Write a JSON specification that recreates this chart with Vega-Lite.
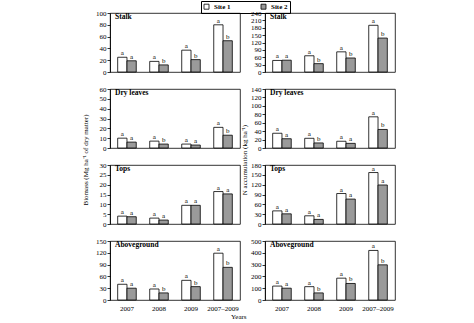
{
  "$schema": "https://vega.github.io/schema/vega-lite/v6.json",
  "padding": {"left": 82, "top": 0, "right": 5, "bottom": 0},
  "background": "white",
  "datasets": {
    "d": [
      {"var":"B","part":"Stalk","year":"2007","site":"Site 1","value":25,"letter":"a"},
      {"var":"B","part":"Stalk","year":"2007","site":"Site 2","value":19,"letter":"a"},
      {"var":"B","part":"Stalk","year":"2008","site":"Site 1","value":18,"letter":"a"},
      {"var":"B","part":"Stalk","year":"2008","site":"Site 2","value":12,"letter":"b"},
      {"var":"B","part":"Stalk","year":"2009","site":"Site 1","value":37,"letter":"a"},
      {"var":"B","part":"Stalk","year":"2009","site":"Site 2","value":21,"letter":"b"},
      {"var":"B","part":"Stalk","year":"2007–2009","site":"Site 1","value":80,"letter":"a"},
      {"var":"B","part":"Stalk","year":"2007–2009","site":"Site 2","value":53,"letter":"b"},
      {"var":"B","part":"Dry leaves","year":"2007","site":"Site 1","value":10,"letter":"a"},
      {"var":"B","part":"Dry leaves","year":"2007","site":"Site 2","value":6,"letter":"a"},
      {"var":"B","part":"Dry leaves","year":"2008","site":"Site 1","value":7,"letter":"a"},
      {"var":"B","part":"Dry leaves","year":"2008","site":"Site 2","value":4,"letter":"b"},
      {"var":"B","part":"Dry leaves","year":"2009","site":"Site 1","value":4,"letter":"a"},
      {"var":"B","part":"Dry leaves","year":"2009","site":"Site 2","value":3,"letter":"a"},
      {"var":"B","part":"Dry leaves","year":"2007–2009","site":"Site 1","value":21,"letter":"a"},
      {"var":"B","part":"Dry leaves","year":"2007–2009","site":"Site 2","value":13,"letter":"b"},
      {"var":"B","part":"Tops","year":"2007","site":"Site 1","value":4,"letter":"a"},
      {"var":"B","part":"Tops","year":"2007","site":"Site 2","value":3.7,"letter":"a"},
      {"var":"B","part":"Tops","year":"2008","site":"Site 1","value":3,"letter":"a"},
      {"var":"B","part":"Tops","year":"2008","site":"Site 2","value":2,"letter":"a"},
      {"var":"B","part":"Tops","year":"2009","site":"Site 1","value":9.5,"letter":"a"},
      {"var":"B","part":"Tops","year":"2009","site":"Site 2","value":9.5,"letter":"a"},
      {"var":"B","part":"Tops","year":"2007–2009","site":"Site 1","value":16.5,"letter":"a"},
      {"var":"B","part":"Tops","year":"2007–2009","site":"Site 2","value":15.3,"letter":"a"},
      {"var":"B","part":"Aboveground","year":"2007","site":"Site 1","value":40,"letter":"a"},
      {"var":"B","part":"Aboveground","year":"2007","site":"Site 2","value":30,"letter":"a"},
      {"var":"B","part":"Aboveground","year":"2008","site":"Site 1","value":28,"letter":"a"},
      {"var":"B","part":"Aboveground","year":"2008","site":"Site 2","value":18,"letter":"b"},
      {"var":"B","part":"Aboveground","year":"2009","site":"Site 1","value":50,"letter":"a"},
      {"var":"B","part":"Aboveground","year":"2009","site":"Site 2","value":34,"letter":"b"},
      {"var":"B","part":"Aboveground","year":"2007–2009","site":"Site 1","value":119,"letter":"a"},
      {"var":"B","part":"Aboveground","year":"2007–2009","site":"Site 2","value":83,"letter":"b"},
      {"var":"N","part":"Stalk","year":"2007","site":"Site 1","value":47,"letter":"a"},
      {"var":"N","part":"Stalk","year":"2007","site":"Site 2","value":48,"letter":"a"},
      {"var":"N","part":"Stalk","year":"2008","site":"Site 1","value":66,"letter":"a"},
      {"var":"N","part":"Stalk","year":"2008","site":"Site 2","value":34,"letter":"b"},
      {"var":"N","part":"Stalk","year":"2009","site":"Site 1","value":82,"letter":"a"},
      {"var":"N","part":"Stalk","year":"2009","site":"Site 2","value":57,"letter":"b"},
      {"var":"N","part":"Stalk","year":"2007–2009","site":"Site 1","value":190,"letter":"a"},
      {"var":"N","part":"Stalk","year":"2007–2009","site":"Site 2","value":138,"letter":"b"},
      {"var":"N","part":"Dry leaves","year":"2007","site":"Site 1","value":35,"letter":"a"},
      {"var":"N","part":"Dry leaves","year":"2007","site":"Site 2","value":22,"letter":"a"},
      {"var":"N","part":"Dry leaves","year":"2008","site":"Site 1","value":23,"letter":"a"},
      {"var":"N","part":"Dry leaves","year":"2008","site":"Site 2","value":12,"letter":"b"},
      {"var":"N","part":"Dry leaves","year":"2009","site":"Site 1","value":16,"letter":"a"},
      {"var":"N","part":"Dry leaves","year":"2009","site":"Site 2","value":11,"letter":"a"},
      {"var":"N","part":"Dry leaves","year":"2007–2009","site":"Site 1","value":74,"letter":"a"},
      {"var":"N","part":"Dry leaves","year":"2007–2009","site":"Site 2","value":44,"letter":"b"},
      {"var":"N","part":"Tops","year":"2007","site":"Site 1","value":40,"letter":"a"},
      {"var":"N","part":"Tops","year":"2007","site":"Site 2","value":31,"letter":"a"},
      {"var":"N","part":"Tops","year":"2008","site":"Site 1","value":25,"letter":"a"},
      {"var":"N","part":"Tops","year":"2008","site":"Site 2","value":14,"letter":"a"},
      {"var":"N","part":"Tops","year":"2009","site":"Site 1","value":93,"letter":"a"},
      {"var":"N","part":"Tops","year":"2009","site":"Site 2","value":76,"letter":"a"},
      {"var":"N","part":"Tops","year":"2007–2009","site":"Site 1","value":157,"letter":"a"},
      {"var":"N","part":"Tops","year":"2007–2009","site":"Site 2","value":119,"letter":"a"},
      {"var":"N","part":"Aboveground","year":"2007","site":"Site 1","value":118,"letter":"a"},
      {"var":"N","part":"Aboveground","year":"2007","site":"Site 2","value":100,"letter":"a"},
      {"var":"N","part":"Aboveground","year":"2008","site":"Site 1","value":113,"letter":"a"},
      {"var":"N","part":"Aboveground","year":"2008","site":"Site 2","value":60,"letter":"b"},
      {"var":"N","part":"Aboveground","year":"2009","site":"Site 1","value":185,"letter":"a"},
      {"var":"N","part":"Aboveground","year":"2009","site":"Site 2","value":140,"letter":"b"},
      {"var":"N","part":"Aboveground","year":"2007–2009","site":"Site 1","value":420,"letter":"a"},
      {"var":"N","part":"Aboveground","year":"2007–2009","site":"Site 2","value":298,"letter":"b"}
    ]
  },
  "data": {"name": "d"},
  "title": {"text": "Years", "orient": "bottom", "anchor": "middle", "fontSize": 7, "fontWeight": "normal", "font": "Liberation Serif", "offset": 2},
  "spacing": 0,
  "hconcat": [
    {
      "title": {"text": "Biomass (Mg ha⁻¹ of dry matter)", "orient": "left", "anchor": "middle", "fontSize": 7, "fontWeight": "normal", "font": "Liberation Serif", "offset": 6},
      "spacing": 8,
      "vconcat": [
        {
          "width": 130, "height": 59,
          "title": {"text": "Stalk", "anchor": "start", "frame": "group", "offset": -11, "dx": 5, "fontSize": 7.5, "fontWeight": "bold", "font": "Liberation Serif"},
          "transform": [{"filter": "datum.var == 'B' && datum.part == 'Stalk'"}],
          "encoding": {
            "x": {"field": "year", "type": "nominal", "sort": ["2007","2008","2009","2007–2009"], "scale": {"paddingInner": 0.42, "paddingOuter": 0.24}, "axis": null},
            "xOffset": {"field": "site", "type": "nominal", "sort": ["Site 1","Site 2"]},
            "y": {"field": "value", "type": "quantitative", "scale": {"domain": [0, 100]}, "axis": {"values": [0,20,40,60,80,100], "title": null}}
          },
          "layer": [
            {"mark": {"type": "bar", "stroke": "black", "strokeWidth": 0.8}, "encoding": {"color": {"field": "site", "type": "nominal", "scale": {"domain": ["Site 1","Site 2"], "range": ["white","#9a9a9a"]}, "legend": {"orient": "none", "legendX": 91, "legendY": -12, "direction": "horizontal", "title": null, "strokeColor": "black", "padding": 2, "symbolType": "square", "symbolSize": 25, "symbolStrokeColor": "black", "symbolStrokeWidth": 0.8, "labelFontSize": 7, "labelFontWeight": "bold", "labelFont": "Liberation Serif", "columnPadding": 28}}}},
            {"mark": {"type": "text", "baseline": "bottom", "dy": -1, "fontSize": 7, "fill": "black"}, "encoding": {"text": {"field": "letter"}}}
          ]
        },
        {
          "width": 130, "height": 59,
          "title": {"text": "Dry leaves", "anchor": "start", "frame": "group", "offset": -11, "dx": 5, "fontSize": 7.5, "fontWeight": "bold", "font": "Liberation Serif"},
          "transform": [{"filter": "datum.var == 'B' && datum.part == 'Dry leaves'"}],
          "encoding": {
            "x": {"field": "year", "type": "nominal", "sort": ["2007","2008","2009","2007–2009"], "scale": {"paddingInner": 0.42, "paddingOuter": 0.24}, "axis": null},
            "xOffset": {"field": "site", "type": "nominal", "sort": ["Site 1","Site 2"]},
            "y": {"field": "value", "type": "quantitative", "scale": {"domain": [0, 60]}, "axis": {"values": [0,10,20,30,40,50,60], "title": null}}
          },
          "layer": [
            {"mark": {"type": "bar", "stroke": "black", "strokeWidth": 0.8}, "encoding": {"color": {"field": "site", "type": "nominal"}}},
            {"mark": {"type": "text", "baseline": "bottom", "dy": -1, "fontSize": 7, "fill": "black"}, "encoding": {"text": {"field": "letter"}}}
          ]
        },
        {
          "width": 130, "height": 59,
          "title": {"text": "Tops", "anchor": "start", "frame": "group", "offset": -11, "dx": 5, "fontSize": 7.5, "fontWeight": "bold", "font": "Liberation Serif"},
          "transform": [{"filter": "datum.var == 'B' && datum.part == 'Tops'"}],
          "encoding": {
            "x": {"field": "year", "type": "nominal", "sort": ["2007","2008","2009","2007–2009"], "scale": {"paddingInner": 0.42, "paddingOuter": 0.24}, "axis": null},
            "xOffset": {"field": "site", "type": "nominal", "sort": ["Site 1","Site 2"]},
            "y": {"field": "value", "type": "quantitative", "scale": {"domain": [0, 30]}, "axis": {"values": [0,5,10,15,20,25,30], "title": null}}
          },
          "layer": [
            {"mark": {"type": "bar", "stroke": "black", "strokeWidth": 0.8}, "encoding": {"color": {"field": "site", "type": "nominal"}}},
            {"mark": {"type": "text", "baseline": "bottom", "dy": -1, "fontSize": 7, "fill": "black"}, "encoding": {"text": {"field": "letter"}}}
          ]
        },
        {
          "width": 130, "height": 59,
          "title": {"text": "Aboveground", "anchor": "start", "frame": "group", "offset": -11, "dx": 5, "fontSize": 7.5, "fontWeight": "bold", "font": "Liberation Serif"},
          "transform": [{"filter": "datum.var == 'B' && datum.part == 'Aboveground'"}],
          "encoding": {
            "x": {"field": "year", "type": "nominal", "sort": ["2007","2008","2009","2007–2009"], "scale": {"paddingInner": 0.42, "paddingOuter": 0.24}, "axis": {"labelAngle": 0, "ticks": false, "domain": false, "title": null, "labelPadding": 4}},
            "xOffset": {"field": "site", "type": "nominal", "sort": ["Site 1","Site 2"]},
            "y": {"field": "value", "type": "quantitative", "scale": {"domain": [0, 150]}, "axis": {"values": [0,30,60,90,120,150], "title": null}}
          },
          "layer": [
            {"mark": {"type": "bar", "stroke": "black", "strokeWidth": 0.8}, "encoding": {"color": {"field": "site", "type": "nominal"}}},
            {"mark": {"type": "text", "baseline": "bottom", "dy": -1, "fontSize": 7, "fill": "black"}, "encoding": {"text": {"field": "letter"}}}
          ]
        }
      ]
    },
    {
      "title": {"text": "N accumulation (kg ha⁻¹)", "orient": "left", "anchor": "middle", "fontSize": 7, "fontWeight": "normal", "font": "Liberation Serif", "offset": 2},
      "spacing": 8,
      "vconcat": [
        {
          "width": 130, "height": 59,
          "title": {"text": "Stalk", "anchor": "start", "frame": "group", "offset": -11, "dx": 5, "fontSize": 7.5, "fontWeight": "bold", "font": "Liberation Serif"},
          "transform": [{"filter": "datum.var == 'N' && datum.part == 'Stalk'"}],
          "encoding": {
            "x": {"field": "year", "type": "nominal", "sort": ["2007","2008","2009","2007–2009"], "scale": {"paddingInner": 0.42, "paddingOuter": 0.24}, "axis": null},
            "xOffset": {"field": "site", "type": "nominal", "sort": ["Site 1","Site 2"]},
            "y": {"field": "value", "type": "quantitative", "scale": {"domain": [0, 240]}, "axis": {"values": [0,30,60,90,120,150,180,210,240], "title": null}}
          },
          "layer": [
            {"mark": {"type": "bar", "stroke": "black", "strokeWidth": 0.8}, "encoding": {"color": {"field": "site", "type": "nominal"}}},
            {"mark": {"type": "text", "baseline": "bottom", "dy": -1, "fontSize": 7, "fill": "black"}, "encoding": {"text": {"field": "letter"}}}
          ]
        },
        {
          "width": 130, "height": 59,
          "title": {"text": "Dry leaves", "anchor": "start", "frame": "group", "offset": -11, "dx": 5, "fontSize": 7.5, "fontWeight": "bold", "font": "Liberation Serif"},
          "transform": [{"filter": "datum.var == 'N' && datum.part == 'Dry leaves'"}],
          "encoding": {
            "x": {"field": "year", "type": "nominal", "sort": ["2007","2008","2009","2007–2009"], "scale": {"paddingInner": 0.42, "paddingOuter": 0.24}, "axis": null},
            "xOffset": {"field": "site", "type": "nominal", "sort": ["Site 1","Site 2"]},
            "y": {"field": "value", "type": "quantitative", "scale": {"domain": [0, 140]}, "axis": {"values": [0,20,40,60,80,100,120,140], "title": null}}
          },
          "layer": [
            {"mark": {"type": "bar", "stroke": "black", "strokeWidth": 0.8}, "encoding": {"color": {"field": "site", "type": "nominal"}}},
            {"mark": {"type": "text", "baseline": "bottom", "dy": -1, "fontSize": 7, "fill": "black"}, "encoding": {"text": {"field": "letter"}}}
          ]
        },
        {
          "width": 130, "height": 59,
          "title": {"text": "Tops", "anchor": "start", "frame": "group", "offset": -11, "dx": 5, "fontSize": 7.5, "fontWeight": "bold", "font": "Liberation Serif"},
          "transform": [{"filter": "datum.var == 'N' && datum.part == 'Tops'"}],
          "encoding": {
            "x": {"field": "year", "type": "nominal", "sort": ["2007","2008","2009","2007–2009"], "scale": {"paddingInner": 0.42, "paddingOuter": 0.24}, "axis": null},
            "xOffset": {"field": "site", "type": "nominal", "sort": ["Site 1","Site 2"]},
            "y": {"field": "value", "type": "quantitative", "scale": {"domain": [0, 180]}, "axis": {"values": [0,30,60,90,120,150,180], "title": null}}
          },
          "layer": [
            {"mark": {"type": "bar", "stroke": "black", "strokeWidth": 0.8}, "encoding": {"color": {"field": "site", "type": "nominal"}}},
            {"mark": {"type": "text", "baseline": "bottom", "dy": -1, "fontSize": 7, "fill": "black"}, "encoding": {"text": {"field": "letter"}}}
          ]
        },
        {
          "width": 130, "height": 59,
          "title": {"text": "Aboveground", "anchor": "start", "frame": "group", "offset": -11, "dx": 5, "fontSize": 7.5, "fontWeight": "bold", "font": "Liberation Serif"},
          "transform": [{"filter": "datum.var == 'N' && datum.part == 'Aboveground'"}],
          "encoding": {
            "x": {"field": "year", "type": "nominal", "sort": ["2007","2008","2009","2007–2009"], "scale": {"paddingInner": 0.42, "paddingOuter": 0.24}, "axis": {"labelAngle": 0, "ticks": false, "domain": false, "title": null, "labelPadding": 4}},
            "xOffset": {"field": "site", "type": "nominal", "sort": ["Site 1","Site 2"]},
            "y": {"field": "value", "type": "quantitative", "scale": {"domain": [0, 500]}, "axis": {"values": [0,100,200,300,400,500], "title": null}}
          },
          "layer": [
            {"mark": {"type": "bar", "stroke": "black", "strokeWidth": 0.8}, "encoding": {"color": {"field": "site", "type": "nominal"}}},
            {"mark": {"type": "text", "baseline": "bottom", "dy": -1, "fontSize": 7, "fill": "black"}, "encoding": {"text": {"field": "letter"}}}
          ]
        }
      ]
    }
  ],
  "config": {
    "font": "Liberation Serif",
    "view": {"stroke": "black", "strokeWidth": 0.8},
    "axis": {"labelFont": "Liberation Serif", "labelFontSize": 7, "labelColor": "black", "tickColor": "black", "domainColor": "black", "tickSize": 3, "grid": false, "labelPadding": 1, "domainWidth": 0.8, "tickWidth": 0.8},
    "text": {"font": "Liberation Serif", "color": "black"}
  }
}
